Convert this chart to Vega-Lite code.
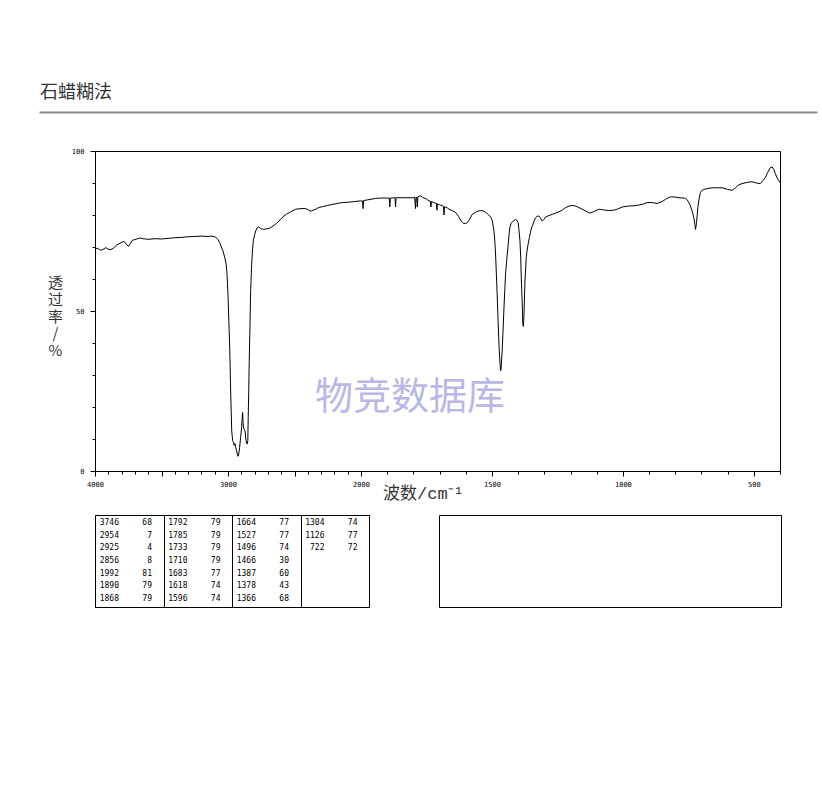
{
  "$schema": "https://vega.github.io/schema/vega-lite/v6.json",
  "background": "white",
  "padding": {"left": 40, "top": 84, "right": 5, "bottom": 5},
  "config": {
    "view": {"stroke": null},
    "axis": {"domainColor": "black", "tickColor": "black", "labelColor": "black", "grid": false, "titleColor": "#333", "titleFontWeight": "normal"}
  },
  "datasets": {
    "spectrum": [
      {"wn":4000,"t":69.4},{"wn":3980,"t":69.6},{"wn":3960,"t":69.0},{"wn":3940,"t":69.2},{"wn":3920,"t":69.8},{"wn":3900,"t":69.3},{"wn":3880,"t":69.2},{"wn":3860,"t":69.7},{"wn":3840,"t":70.5},{"wn":3820,"t":71.0},{"wn":3800,"t":71.5},{"wn":3780,"t":71.7},{"wn":3760,"t":70.6},{"wn":3746,"t":70.2},{"wn":3735,"t":71.0},{"wn":3720,"t":72.1},{"wn":3700,"t":72.3},{"wn":3680,"t":72.6},{"wn":3660,"t":72.8},{"wn":3640,"t":72.6},{"wn":3620,"t":72.5},{"wn":3600,"t":72.4},{"wn":3550,"t":72.6},{"wn":3500,"t":72.5},{"wn":3450,"t":72.7},{"wn":3400,"t":72.9},{"wn":3350,"t":73.0},{"wn":3300,"t":73.2},{"wn":3250,"t":73.3},{"wn":3200,"t":73.4},{"wn":3150,"t":73.3},{"wn":3120,"t":73.4},{"wn":3093,"t":73.1},{"wn":3075,"t":72.3},{"wn":3063,"t":71.4},{"wn":3050,"t":70.0},{"wn":3038,"t":68.8},{"wn":3025,"t":66.8},{"wn":3015,"t":65.0},{"wn":3008,"t":62.0},{"wn":3000,"t":55.0},{"wn":2993,"t":46.0},{"wn":2987,"t":38.5},{"wn":2980,"t":25.0},{"wn":2972,"t":12.5},{"wn":2965,"t":9.5},{"wn":2958,"t":8.8},{"wn":2954,"t":8.0},{"wn":2948,"t":8.6},{"wn":2942,"t":7.3},{"wn":2936,"t":6.5},{"wn":2930,"t":5.3},{"wn":2925,"t":4.6},{"wn":2920,"t":5.0},{"wn":2913,"t":7.3},{"wn":2905,"t":10.5},{"wn":2898,"t":13.5},{"wn":2892,"t":17.5},{"wn":2890,"t":18.3},{"wn":2887,"t":15.5},{"wn":2883,"t":13.5},{"wn":2876,"t":12.8},{"wn":2872,"t":12.5},{"wn":2866,"t":10.0},{"wn":2860,"t":8.6},{"wn":2856,"t":8.4},{"wn":2851,"t":9.5},{"wn":2848,"t":16.7},{"wn":2844,"t":25.0},{"wn":2840,"t":35.0},{"wn":2835,"t":44.8},{"wn":2830,"t":56.0},{"wn":2822,"t":64.6},{"wn":2815,"t":69.5},{"wn":2810,"t":71.9},{"wn":2800,"t":73.8},{"wn":2792,"t":75.0},{"wn":2780,"t":76.0},{"wn":2772,"t":76.3},{"wn":2760,"t":76.0},{"wn":2755,"t":75.8},{"wn":2740,"t":75.6},{"wn":2730,"t":75.5},{"wn":2710,"t":75.7},{"wn":2692,"t":75.8},{"wn":2670,"t":76.3},{"wn":2654,"t":76.8},{"wn":2635,"t":77.4},{"wn":2617,"t":78.1},{"wn":2600,"t":78.9},{"wn":2579,"t":79.7},{"wn":2560,"t":80.3},{"wn":2541,"t":80.7},{"wn":2520,"t":81.2},{"wn":2491,"t":81.8},{"wn":2450,"t":82.0},{"wn":2416,"t":82.0},{"wn":2395,"t":81.6},{"wn":2378,"t":81.2},{"wn":2360,"t":81.5},{"wn":2341,"t":81.8},{"wn":2320,"t":82.3},{"wn":2291,"t":82.6},{"wn":2250,"t":83.0},{"wn":2216,"t":83.3},{"wn":2180,"t":83.6},{"wn":2140,"t":83.9},{"wn":2090,"t":84.0},{"wn":2050,"t":84.2},{"wn":2005,"t":84.4},{"wn":1994,"t":84.4},{"wn":1992,"t":82.0},{"wn":1990,"t":84.5},{"wn":1970,"t":84.8},{"wn":1944,"t":85.2},{"wn":1920,"t":85.3},{"wn":1898,"t":85.3},{"wn":1892,"t":85.3},{"wn":1890,"t":82.5},{"wn":1888,"t":85.3},{"wn":1870,"t":85.4},{"wn":1868,"t":82.5},{"wn":1866,"t":85.4},{"wn":1855,"t":85.4},{"wn":1830,"t":85.4},{"wn":1804,"t":85.4},{"wn":1795,"t":85.5},{"wn":1792,"t":82.0},{"wn":1790,"t":85.5},{"wn":1787,"t":85.5},{"wn":1785,"t":82.5},{"wn":1783,"t":85.7},{"wn":1775,"t":85.9},{"wn":1772,"t":86.0},{"wn":1765,"t":85.5},{"wn":1759,"t":85.3},{"wn":1750,"t":85.0},{"wn":1740,"t":84.4},{"wn":1735,"t":84.3},{"wn":1733,"t":82.5},{"wn":1731,"t":84.2},{"wn":1720,"t":83.8},{"wn":1712,"t":83.6},{"wn":1710,"t":81.5},{"wn":1708,"t":83.5},{"wn":1700,"t":83.2},{"wn":1690,"t":82.9},{"wn":1685,"t":82.7},{"wn":1683,"t":80.0},{"wn":1681,"t":82.6},{"wn":1670,"t":82.2},{"wn":1664,"t":81.8},{"wn":1650,"t":81.3},{"wn":1638,"t":80.7},{"wn":1628,"t":79.6},{"wn":1619,"t":78.3},{"wn":1612,"t":77.6},{"wn":1607,"t":77.3},{"wn":1600,"t":77.4},{"wn":1594,"t":77.6},{"wn":1585,"t":78.7},{"wn":1575,"t":80.2},{"wn":1562,"t":80.9},{"wn":1550,"t":81.3},{"wn":1540,"t":81.4},{"wn":1531,"t":81.2},{"wn":1522,"t":80.7},{"wn":1512,"t":80.0},{"wn":1504,"t":79.3},{"wn":1499,"t":78.3},{"wn":1493,"t":75.5},{"wn":1489,"t":71.9},{"wn":1486,"t":67.5},{"wn":1483,"t":61.5},{"wn":1480,"t":55.0},{"wn":1477,"t":47.9},{"wn":1474,"t":41.5},{"wn":1472,"t":37.5},{"wn":1469,"t":33.5},{"wn":1467,"t":31.3},{"wn":1465,"t":32.0},{"wn":1461,"t":37.5},{"wn":1458,"t":43.0},{"wn":1454,"t":51.0},{"wn":1451,"t":56.5},{"wn":1448,"t":61.5},{"wn":1443,"t":66.5},{"wn":1439,"t":69.8},{"wn":1435,"t":73.5},{"wn":1432,"t":76.0},{"wn":1427,"t":77.3},{"wn":1422,"t":77.9},{"wn":1416,"t":78.3},{"wn":1410,"t":78.6},{"wn":1404,"t":78.3},{"wn":1400,"t":77.6},{"wn":1397,"t":75.5},{"wn":1393,"t":71.9},{"wn":1390,"t":66.5},{"wn":1388,"t":60.4},{"wn":1385,"t":54.0},{"wn":1382,"t":45.8},{"wn":1380,"t":45.2},{"wn":1378,"t":47.9},{"wn":1376,"t":53.5},{"wn":1374,"t":59.4},{"wn":1371,"t":63.5},{"wn":1369,"t":66.7},{"wn":1366,"t":68.8},{"wn":1362,"t":70.8},{"wn":1357,"t":73.0},{"wn":1352,"t":75.0},{"wn":1347,"t":76.3},{"wn":1343,"t":77.1},{"wn":1338,"t":78.3},{"wn":1333,"t":79.2},{"wn":1327,"t":79.6},{"wn":1321,"t":79.7},{"wn":1315,"t":79.1},{"wn":1308,"t":78.1},{"wn":1302,"t":78.6},{"wn":1295,"t":79.4},{"wn":1283,"t":79.8},{"wn":1270,"t":80.2},{"wn":1257,"t":80.6},{"wn":1244,"t":81.0},{"wn":1230,"t":81.6},{"wn":1219,"t":82.3},{"wn":1205,"t":82.8},{"wn":1190,"t":83.0},{"wn":1175,"t":82.6},{"wn":1160,"t":82.0},{"wn":1145,"t":81.4},{"wn":1135,"t":80.9},{"wn":1126,"t":80.6},{"wn":1115,"t":80.9},{"wn":1105,"t":81.3},{"wn":1092,"t":81.8},{"wn":1075,"t":81.6},{"wn":1054,"t":81.4},{"wn":1035,"t":81.5},{"wn":1022,"t":81.8},{"wn":1003,"t":82.5},{"wn":978,"t":82.8},{"wn":955,"t":82.9},{"wn":939,"t":83.1},{"wn":920,"t":83.5},{"wn":907,"t":83.9},{"wn":890,"t":83.9},{"wn":869,"t":83.6},{"wn":850,"t":84.2},{"wn":837,"t":84.9},{"wn":818,"t":85.7},{"wn":800,"t":85.6},{"wn":786,"t":85.4},{"wn":770,"t":85.3},{"wn":761,"t":85.2},{"wn":755,"t":84.8},{"wn":748,"t":83.9},{"wn":742,"t":82.8},{"wn":738,"t":81.8},{"wn":733,"t":80.5},{"wn":729,"t":79.2},{"wn":725,"t":77.0},{"wn":723,"t":75.5},{"wn":721,"t":76.2},{"wn":719,"t":77.6},{"wn":716,"t":80.0},{"wn":714,"t":82.3},{"wn":709,"t":85.0},{"wn":704,"t":87.0},{"wn":698,"t":87.7},{"wn":691,"t":88.0},{"wn":675,"t":88.3},{"wn":659,"t":88.5},{"wn":640,"t":88.5},{"wn":621,"t":88.5},{"wn":600,"t":88.0},{"wn":583,"t":87.7},{"wn":570,"t":88.5},{"wn":560,"t":89.3},{"wn":545,"t":89.8},{"wn":525,"t":90.2},{"wn":507,"t":90.4},{"wn":490,"t":90.0},{"wn":475,"t":89.8},{"wn":465,"t":90.8},{"wn":456,"t":91.7},{"wn":447,"t":93.3},{"wn":437,"t":94.8},{"wn":430,"t":95.0},{"wn":424,"t":94.3},{"wn":418,"t":93.0},{"wn":412,"t":91.7},{"wn":405,"t":90.8},{"wn":400,"t":90.1}
    ],
    "peaks": [
      {"col":1,"row":1,"wn":"3746","t":"68"},{"col":1,"row":2,"wn":"2954","t":"7"},{"col":1,"row":3,"wn":"2925","t":"4"},{"col":1,"row":4,"wn":"2856","t":"8"},{"col":1,"row":5,"wn":"1992","t":"81"},{"col":1,"row":6,"wn":"1890","t":"79"},{"col":1,"row":7,"wn":"1868","t":"79"},
      {"col":2,"row":1,"wn":"1792","t":"79"},{"col":2,"row":2,"wn":"1785","t":"79"},{"col":2,"row":3,"wn":"1733","t":"79"},{"col":2,"row":4,"wn":"1710","t":"79"},{"col":2,"row":5,"wn":"1683","t":"77"},{"col":2,"row":6,"wn":"1618","t":"74"},{"col":2,"row":7,"wn":"1596","t":"74"},
      {"col":3,"row":1,"wn":"1664","t":"77"},{"col":3,"row":2,"wn":"1527","t":"77"},{"col":3,"row":3,"wn":"1496","t":"74"},{"col":3,"row":4,"wn":"1466","t":"30"},{"col":3,"row":5,"wn":"1387","t":"60"},{"col":3,"row":6,"wn":"1378","t":"43"},{"col":3,"row":7,"wn":"1366","t":"68"},
      {"col":4,"row":1,"wn":"1304","t":"74"},{"col":4,"row":2,"wn":"1126","t":"77"},{"col":4,"row":3,"wn":"722","t":"72"}
    ]
  },
  "spacing": 33,
  "vconcat": [
    {
      "width": 685,
      "height": 1,
      "view": {"stroke": null},
      "title": {"text": "石蜡糊法", "anchor": "start", "frame": "group", "dx": -55, "offset": -4, "baseline": "alphabetic", "font": "Noto Sans CJK SC", "fontSize": 18, "fontWeight": "normal", "color": "#333"},
      "data": {"values": []},
      "mark": "point",
      "encoding": {
        "x": {"field": "a", "type": "quantitative", "scale": {"domain": [0, 1], "range": [-56, 722], "nice": false, "zero": false},
              "axis": {"orient": "top", "domain": true, "domainColor": "#8c8c8c", "domainWidth": 2, "ticks": false, "labels": false, "grid": false, "title": null, "minExtent": 0, "maxExtent": 0, "titlePadding": 0}}
      }
    },
    {
      "spacing": 12,
      "vconcat": [
        {
          "width": 685,
          "height": 320,
          "view": {"stroke": "black", "strokeWidth": 1},
          "layer": [
            {
              "data": {"name": "spectrum"},
              "mark": {"type": "line", "color": "black", "strokeWidth": 1, "clip": true},
              "encoding": {
                "x": {"field": "wn", "type": "quantitative",
                      "scale": {"domain": [4000, 2000, 400], "range": [0, 266, 685], "nice": false, "zero": false},
                      "axis": {"values": [4000,3900,3800,3700,3600,3500,3400,3300,3200,3100,3000,2900,2800,2700,2600,2500,2400,2300,2200,2100,2000,1900,1800,1700,1600,1500,1400,1300,1200,1100,1000,900,800,700,600,500,400],
                               "format": "d", "labelExpr": "indexof([4000,3000,2000,1500,1000,500], datum.value) >= 0 ? datum.label : ''",
                               "labelFont": "DejaVu Sans Mono", "labelFontSize": 7, "labelFlush": false, "labelOverlap": false, "labelPadding": 4,
                               "tickSize": {"condition": {"test": "datum.value % 500 === 0", "value": 5}, "value": 3},
                               "title": "波数/cm⁻¹", "titleFont": "Liberation Mono, Noto Sans CJK SC", "titleFontSize": 17, "titleX": 328, "titleY": 27, "titleAlign": "center", "titleBaseline": "alphabetic", "titleColor": "#333"}},
                "y": {"field": "t", "type": "quantitative",
                      "scale": {"domain": [0, 100], "nice": false, "zero": false},
                      "axis": {"values": [0,10,20,30,40,50,60,70,80,90,100], "labelExpr": "datum.value % 50 === 0 ? datum.label : ''",
                               "labelFont": "DejaVu Sans Mono", "labelFontSize": 7, "labelOverlap": false, "labelPadding": 6,
                               "tickSize": {"condition": {"test": "datum.value % 50 === 0", "value": 5}, "value": 3},
                               "title": ["透", "过", "率", "/", "%"], "titleFont": "Noto Sans CJK SC", "titleFontSize": 15, "titleLineHeight": 17, "titleAngle": 0,
                               "titleX": -40, "titleY": 131, "titleAlign": "center", "titleBaseline": "middle", "titleColor": "#333"}}
              }
            },
            {
              "data": {"values": [{"label": "物竞数据库"}]},
              "mark": {"type": "text", "font": "Noto Sans CJK SC", "fontSize": 38, "color": "#b8b8e6", "align": "center", "baseline": "middle"},
              "encoding": {
                "x": {"datum": 1813, "type": "quantitative",
                      "scale": {"domain": [4000, 2000, 400], "range": [0, 266, 685], "nice": false, "zero": false},
                      "axis": {"values": [4000,3900,3800,3700,3600,3500,3400,3300,3200,3100,3000,2900,2800,2700,2600,2500,2400,2300,2200,2100,2000,1900,1800,1700,1600,1500,1400,1300,1200,1100,1000,900,800,700,600,500,400],
                               "format": "d", "labelExpr": "indexof([4000,3000,2000,1500,1000,500], datum.value) >= 0 ? datum.label : ''",
                               "labelFont": "DejaVu Sans Mono", "labelFontSize": 7, "labelFlush": false, "labelOverlap": false, "labelPadding": 4,
                               "tickSize": {"condition": {"test": "datum.value % 500 === 0", "value": 5}, "value": 3},
                               "title": "波数/cm⁻¹", "titleFont": "Liberation Mono, Noto Sans CJK SC", "titleFontSize": 17, "titleX": 328, "titleY": 27, "titleAlign": "center", "titleBaseline": "alphabetic", "titleColor": "#333"}},
                "y": {"datum": 22.8, "type": "quantitative",
                      "scale": {"domain": [0, 100], "nice": false, "zero": false},
                      "axis": {"values": [0,10,20,30,40,50,60,70,80,90,100], "labelExpr": "datum.value % 50 === 0 ? datum.label : ''",
                               "labelFont": "DejaVu Sans Mono", "labelFontSize": 7, "labelOverlap": false, "labelPadding": 6,
                               "tickSize": {"condition": {"test": "datum.value % 50 === 0", "value": 5}, "value": 3},
                               "title": ["透", "过", "率", "/", "%"], "titleFont": "Noto Sans CJK SC", "titleFontSize": 15, "titleLineHeight": 17, "titleAngle": 0,
                               "titleX": -40, "titleY": 131, "titleAlign": "center", "titleBaseline": "middle", "titleColor": "#333"}},
                "text": {"field": "label", "type": "nominal"}
              }
            }
          ]
        },
        {
          "spacing": 68,
          "hconcat": [
            {
              "width": 274,
              "height": 92,
              "view": {"stroke": "black", "strokeWidth": 1},
              "data": {"name": "peaks"},
              "encoding": {
                "x": {"field": "col", "type": "ordinal", "bandPosition": 0, "scale": {"type": "band", "paddingInner": 0, "paddingOuter": 0},
                      "axis": {"grid": true, "tickBand": "extent", "gridColor": "black", "gridOpacity": 1, "gridWidth": 1, "labels": false, "ticks": false, "domain": false, "title": null}},
                "y": {"field": "row", "type": "ordinal", "scale": {"type": "point", "padding": 0.63}, "axis": null}
              },
              "layer": [
                {"mark": {"type": "text", "align": "right", "baseline": "middle", "dx": 24, "font": "DejaVu Sans Mono", "fontSize": 8, "color": "black"},
                 "encoding": {"text": {"field": "wn", "type": "nominal"}}},
                {"mark": {"type": "text", "align": "right", "baseline": "middle", "dx": 57, "font": "DejaVu Sans Mono", "fontSize": 8, "color": "black"},
                 "encoding": {"text": {"field": "t", "type": "nominal"}}}
              ]
            },
            {
              "width": 342,
              "height": 92,
              "view": {"stroke": "black", "strokeWidth": 1},
              "data": {"values": []},
              "mark": "point"
            }
          ]
        }
      ]
    }
  ]
}
